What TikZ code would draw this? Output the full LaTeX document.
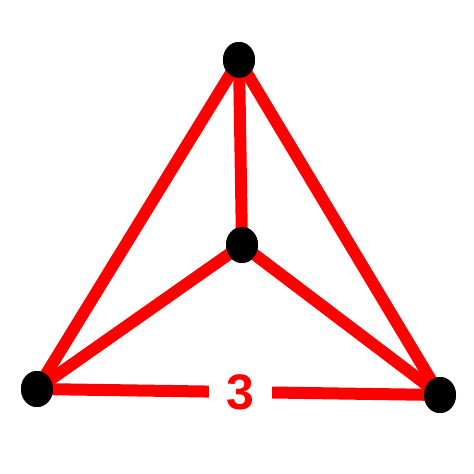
\documentclass[tikz,border=0pt]{standalone}
\usepackage{fontspec}
\setmainfont{Liberation Sans}
\usetikzlibrary{shapes}

\begin{document}
\begin{tikzpicture}[x=1pt,y=-1pt]
	 \tikzstyle{vertex}=[ellipse,fill=black,minimum width=32pt,minimum height=36pt,inner sep=0pt]
	 \tikzstyle{edge} = [-,red,line width=12pt]
	 \tikzstyle{label} = [fill=white,text=red,font=\bfseries\fontsize{50}{50}\selectfont,inner xsep=18pt,inner ysep=2pt]

	 \useasboundingbox (0,0) rectangle (474,474);

	 \node[vertex] (top) at (239,60) {};
	 \node[vertex] (mid) at (242,245) {};
	 \node[vertex] (left) at (37,389) {};
	 \node[vertex] (right) at (440,395) {};

	 \draw[edge] (top.center) -- (mid.center);
	 \draw[edge] (top.center) -- (left.center);
	 \draw[edge] (top.center) -- (right.center);
	 \draw[edge] (mid.center) -- (left.center);
	 \draw[edge] (mid.center) -- (right.center);
	 \draw[edge] (left.center) -- node[label,pos=0.505] (three) {3} (right.center);

	 \foreach \v in {top,mid,left,right}
	 	\node[vertex] at (\v) {};
\end{tikzpicture}
\end{document}
